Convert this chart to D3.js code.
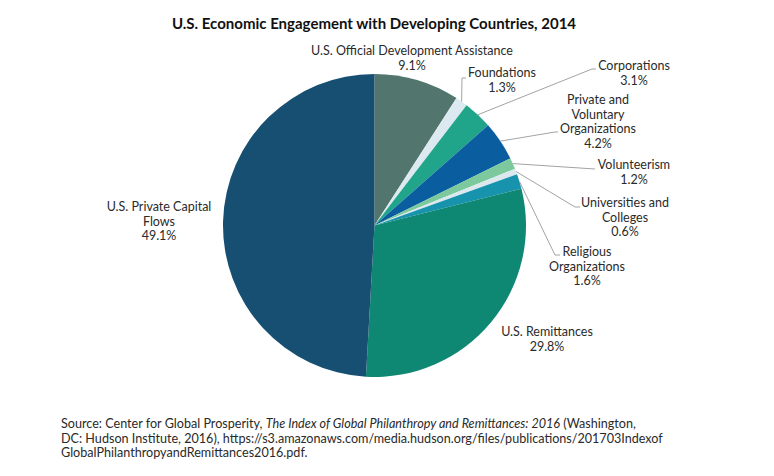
<!DOCTYPE html>
<html>
<head>
<meta charset="utf-8">
<script src="https://cdn.jsdelivr.net/npm/d3@7"></script>
<style>
  body { margin: 0; background: #fff; }
  svg { display: block; font-family: Lato, "Open Sans", sans-serif; }
</style>
</head>
<body>
<div id="chart"></div>
<script>
// data, clockwise from 12 o'clock
var categories = ["U.S. Official Development Assistance", "Foundations", "Corporations",
  "Private and Voluntary Organizations", "Volunteerism", "Universities and Colleges",
  "Religious Organizations", "U.S. Remittances", "U.S. Private Capital Flows"]
var shares = [9.1, 1.3, 3.1, 4.2, 1.2, 0.6, 1.6, 29.8, 49.1]
var colors = ["#52766d", "#dde9f0", "#20a58a", "#0a5ea0", "#7bc99c", "#dce8ee", "#1893ad", "#0e8873", "#174f72"]

// label text lines, same order
var labelLines = [
  ["U.S. Official Development Assistance"],
  ["Foundations"],
  ["Corporations"],
  ["Private and", "Voluntary", "Organizations"],
  ["Volunteerism"],
  ["Universities and", "Colleges"],
  ["Religious", "Organizations"],
  ["U.S. Remittances"],
  ["U.S. Private Capital", "Flows"]
]

var width = 774
var height = 476
var cx = 374.5, cy = 225.5, r = 151.5

// label anchor (center x, first baseline) and leader path bends (null = no leader)
var labelPos = [
  {x: 412, y: 55, leader: null},
  {x: 502, y: 77, leader: [[462, 78], [466, 78]]},
  {x: 634, y: 70, leader: [[592, 69], [596, 69]]},
  {x: 598, y: 104, leader: [[555, 132], [558, 132]]},
  {x: 634, y: 169, leader: [[595, 169]]},
  {x: 625, y: 207, leader: [[575, 207], [580, 207]]},
  {x: 587, y: 256, leader: [[555, 255], [560, 255]]},
  {x: 547, y: 336, leader: null},
  {x: 159, y: 211, leader: null}
]

var svg = d3.select("#chart").append("svg")
  .attr("width", width)
  .attr("height", height)

svg.append("text")
  .attr("x", 374)
  .attr("y", 29)
  .attr("text-anchor", "middle")
  .attr("font-size", 15)
  .attr("font-weight", "bold")
  .attr("fill", "#111")
  .text("U.S. Economic Engagement with Developing Countries, 2014")

var pie = d3.pie().sort(null).value(d => d)
var arcs = pie(shares)
var arc = d3.arc().innerRadius(0).outerRadius(r)
var edge = d3.arc().innerRadius(r).outerRadius(r)

var g = svg.append("g").attr("transform", `translate(${cx},${cy})`)

g.selectAll("path.slice")
  .data(arcs)
  .join("path")
    .attr("class", "slice")
    .attr("d", arc)
    .attr("fill", (d, i) => colors[i])

// leaders
var line = d3.line()
svg.append("g")
  .attr("fill", "none")
  .attr("stroke", "#a3a3a3")
  .attr("stroke-width", 1)
  .selectAll("path")
  .data(arcs.filter((d, i) => labelPos[i].leader))
  .join("path")
    .attr("d", d => {
      var c = edge.centroid(d)
      return line([[cx + c[0], cy + c[1]]].concat(labelPos[d.index].leader))
    })

// labels
var labels = svg.append("g")
  .attr("font-size", 12.5)
  .attr("fill", "#2a2a2a")
  .attr("text-anchor", "middle")
  .selectAll("text")
  .data(arcs)
  .join("text")
    .attr("x", d => labelPos[d.index].x)
    .attr("y", d => labelPos[d.index].y)

labels.each(function(d) {
  var t = d3.select(this)
  var lines = labelLines[d.index].concat([d.data.toFixed(1) + "%"])
  lines.forEach((s, j) => {
    t.append("tspan")
      .attr("x", labelPos[d.index].x)
      .attr("dy", j == 0 ? 0 : 14.5)
      .text(s)
  })
})

// source note
var src = svg.append("text")
  .attr("x", 61)
  .attr("y", 428)
  .attr("font-size", 12.6)
  .attr("fill", "#2a2a2a")
src.append("tspan").text("Source: Center for Global Prosperity, ")
src.append("tspan").attr("font-style", "italic").text("The Index of Global Philanthropy and Remittances: 2016")
src.append("tspan").text(" (Washington,")
src.append("tspan").attr("x", 61).attr("dy", 14.5)
  .text("DC: Hudson Institute, 2016), https://s3.amazonaws.com/media.hudson.org/files/publications/201703Indexof")
src.append("tspan").attr("x", 61).attr("dy", 14.5)
  .text("GlobalPhilanthropyandRemittances2016.pdf.")
</script>
</body>
</html>
